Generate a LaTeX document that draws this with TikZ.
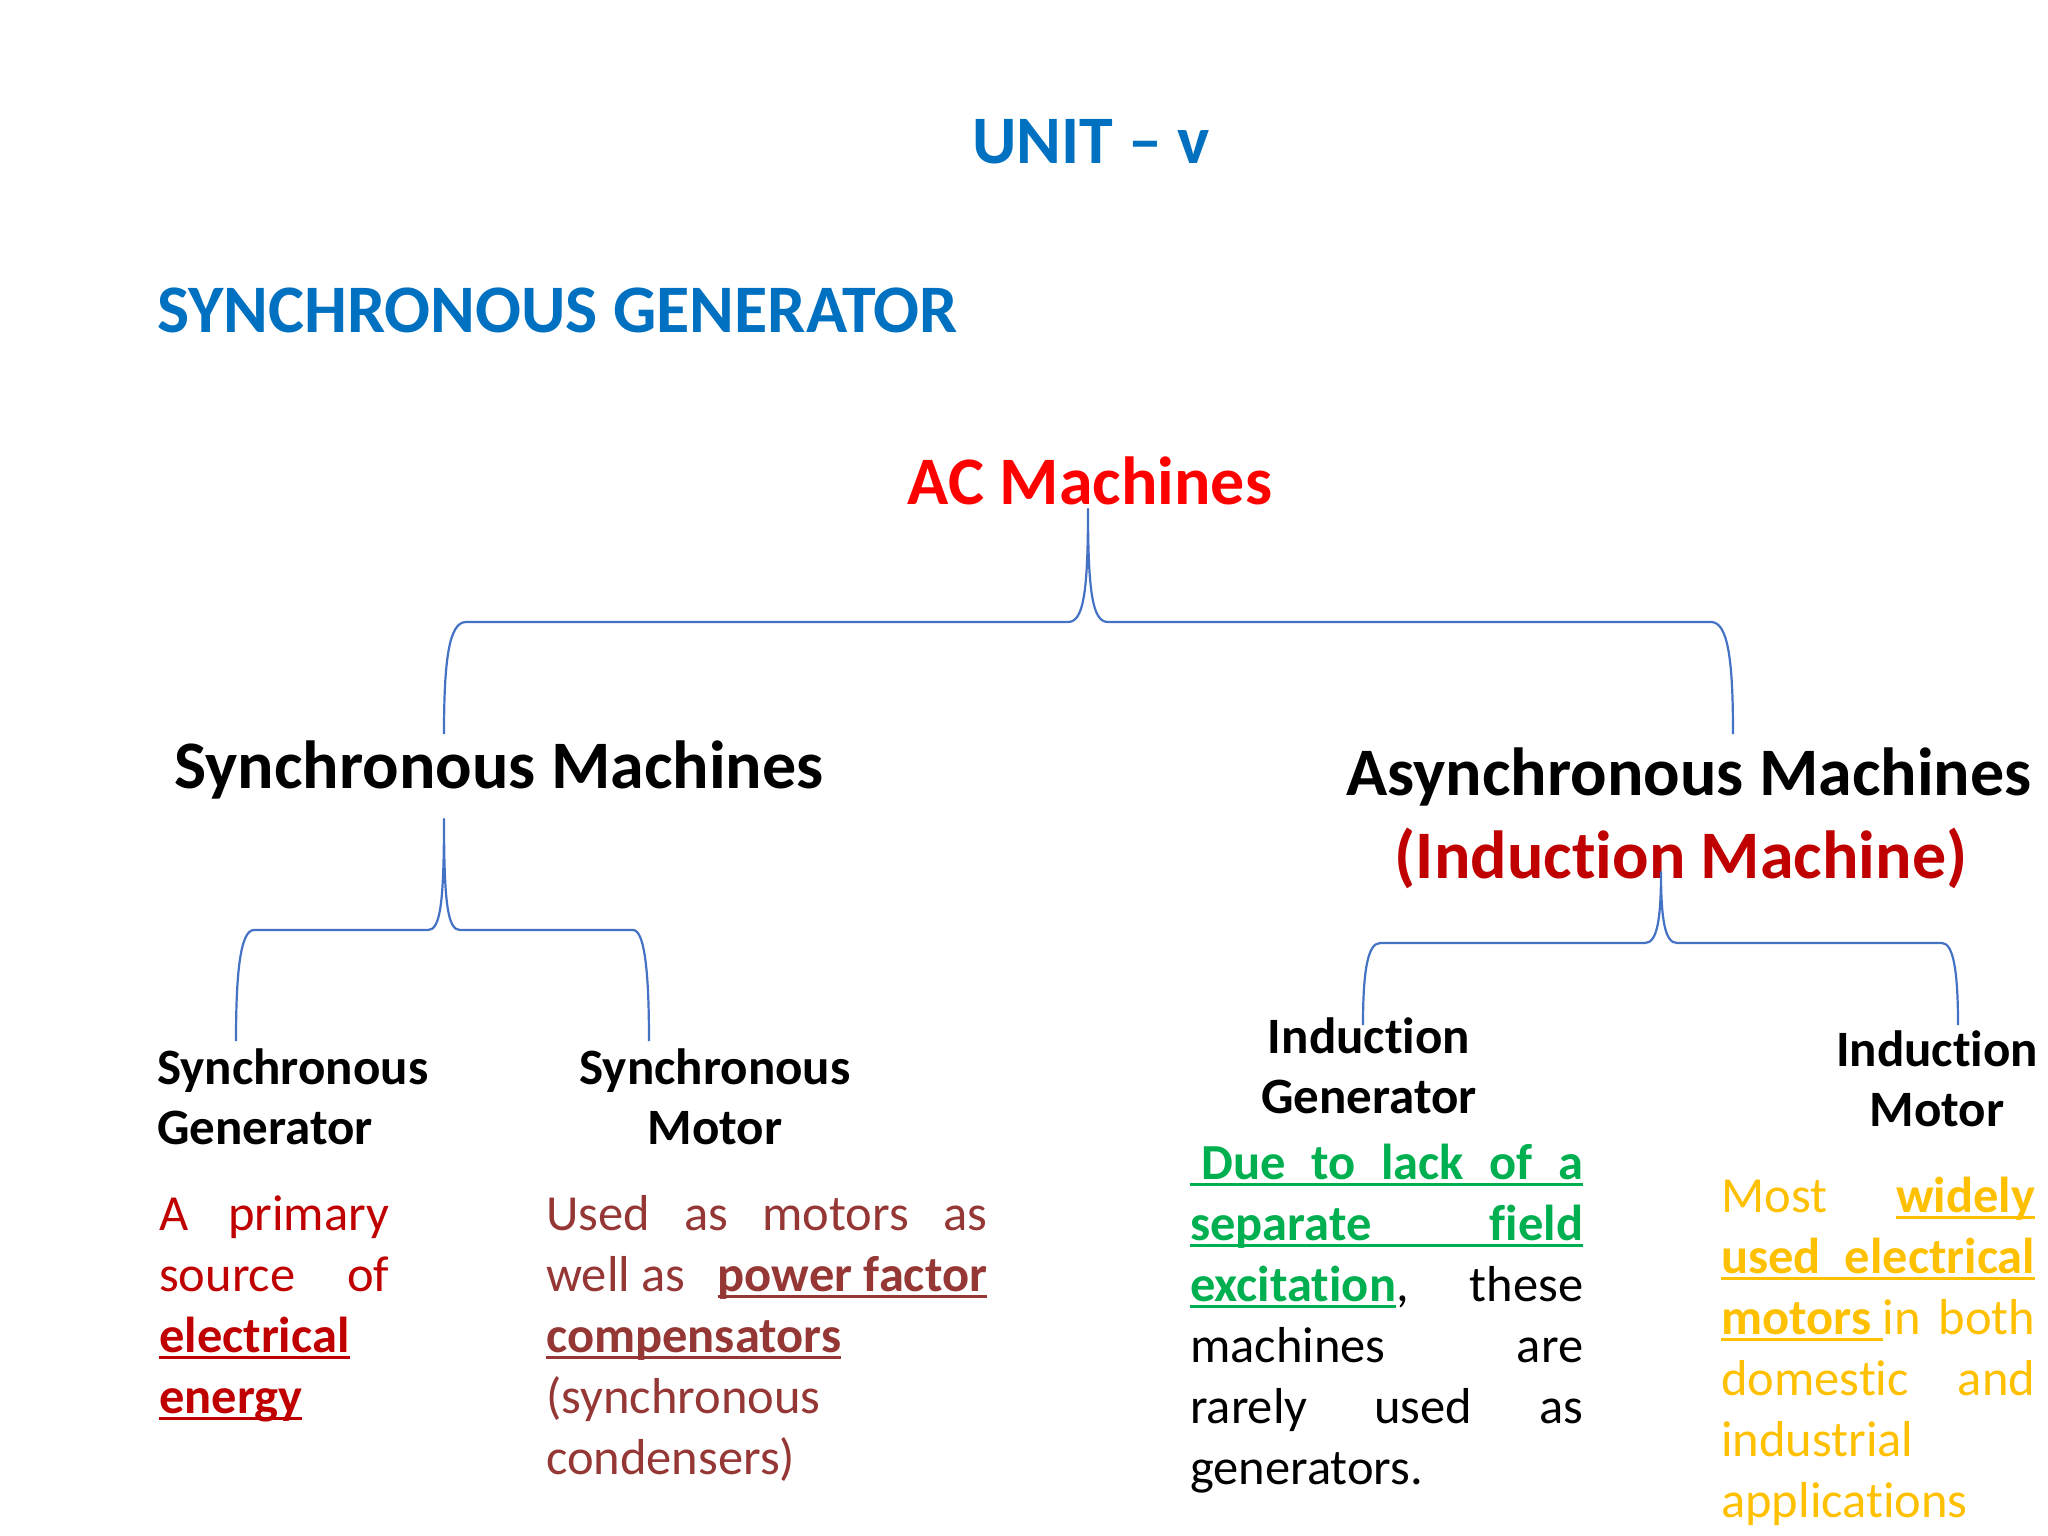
\documentclass[tikz,border=0pt]{standalone}
\usepackage{fontspec}
\setmainfont[Ligatures={NoCommon}]{Carlito}
\definecolor{titleblue}{HTML}{0070C0}
\definecolor{acred}{HTML}{FF0000}
\definecolor{darkred}{HTML}{C00000}
\definecolor{brownred}{HTML}{953735}
\definecolor{mygreen}{HTML}{00B050}
\definecolor{mygold}{HTML}{FFC000}
\definecolor{braceblue}{HTML}{4472C4}
\newcommand\myul[1]{\setbox0\hbox{#1}\rlap{\rule[-7pt]{\wd0}{3pt}}\box0}
\newcommand\myulw[2]{\hbox to #1{\rlap{\rule[-7pt]{#1}{3pt}}#2}}
\newcommand\tblock[2]{\vtop{\hsize=#1\fontsize{50.5}{61}\selectfont\parindent0pt #2}}
\newcommand\hdc[2]{\vtop{\fontsize{51}{60}\selectfont\bfseries\halign{\hfil##\hfil\cr #1\cr #2\cr}}}
\newcommand\hdl[2]{\vtop{\fontsize{51}{60}\selectfont\bfseries\halign{##\hfil\cr #1\cr #2\cr}}}
\tikzset{
  big/.style={inner sep=0pt, font=\fontsize{68}{80}\selectfont\bfseries},
  txt/.style={inner sep=0pt, anchor=base west},
  hd/.style={inner sep=0pt, text=black},
  connector/.style={draw=braceblue, line width=2.2pt, line join=round}
}
\begin{document}
\begin{tikzpicture}[x=1pt,y=-1pt]
\useasboundingbox[fill=white] (0,0) rectangle (2048,1536);

% titles
\node[big, text=titleblue, anchor=base] (unit) at (1091,164) {UNIT – v};
\node[big, text=titleblue, anchor=base west] (sg) at (157,332) {SYNCHRONOUS GENERATOR};
\node[big, text=acred, anchor=base] (ac) at (1090,504) {AC Machines};
\node[big, text=black, anchor=base west] (sm) at (174,788) {Synchronous Machines};
\node[big, text=black, anchor=base] (am) at (1689,795) {Asynchronous Machines};
\node[big, text=darkred, anchor=base] (im) at (1681,878) {(Induction Machine)};

% brace anchor points
\coordinate (acT) at (1088,509);
\coordinate (acL) at (444,734);
\coordinate (acR) at (1733,734);
\coordinate (smT) at (444,819);
\coordinate (smL) at (236,1041);
\coordinate (smR) at (649,1041);
\coordinate (imT) at (1661,872);
\coordinate (imL) at (1363,1025);
\coordinate (imR) at (1958,1025);

% braces
\draw[connector] (acL) .. controls (444,660) and (449,622) .. (466,622) -- (1068,622)
  .. controls (1083,622) and (1088,595) .. (acT)
  .. controls (1088,595) and (1093,622) .. (1108,622) -- (1711,622)
  .. controls (1728,622) and (1733,660) .. (acR);
\draw[connector] (smL) .. controls (236,975) and (240,930) .. (254,930) -- (428,930)
  .. controls (440,930) and (444,905) .. (smT)
  .. controls (444,905) and (448,930) .. (460,930) -- (633,930)
  .. controls (645,930) and (649,975) .. (smR);
\draw[connector] (imL) .. controls (1363,975) and (1367,943) .. (1380,943) -- (1645,943)
  .. controls (1657,943) and (1661,920) .. (imT)
  .. controls (1661,920) and (1665,943) .. (1677,943) -- (1942,943)
  .. controls (1954,943) and (1958,975) .. (imR);

% sub headings
\node[hd, anchor=base west] (sgen) at (157,1084) {\hdl{Synchronous}{Generator}};
\node[hd, anchor=base] (smot) at (715,1084) {\hdc{Synchronous}{Motor}};
\node[hd, anchor=base] (igen) at (1369,1053) {\hdc{Induction}{Generator}};
\node[hd, anchor=base] (imot) at (1937,1066) {\hdc{Induction}{Motor}};

% descriptions
\node[txt, text=darkred] (sgtext) at (159,1230) {\tblock{230pt}{%
  \hbox to \hsize{A\hfill primary}
  \hbox to \hsize{source\hfill of}
  \hbox{\myul{\bfseries electrical}}
  \hbox{\myul{\bfseries energy}}}};

\node[txt, text=brownred] (smtext) at (546,1230) {\tblock{441pt}{%
  \hbox to \hsize{Used as motors as}
  \hbox to \hsize{well as\hskip 14pt plus 1fil\myul{\bfseries power factor}}
  \hbox{\myul{\bfseries compensators}}
  \hbox{(synchronous}
  \hbox{condensers)}}};

\node[txt, text=mygreen] (igtext) at (1190,1179) {\tblock{393pt}{%
  \myulw{\hsize}{\bfseries\kern 11pt Due to lack of a}
  \myulw{\hsize}{\bfseries separate field}
  \hbox to \hsize{\myul{\bfseries excitation}{\color{black}, these}}
  \hbox to \hsize{\color{black}machines are}
  \hbox to \hsize{\color{black}rarely used as}
  \hbox{\color{black}generators.}}};

\node[txt, text=mygold] (imtext) at (1721,1212) {\tblock{314pt}{%
  \hbox to \hsize{Most \myul{\bfseries widely}}
  \myulw{\hsize}{\bfseries used electrical}
  \hbox to \hsize{\myul{\bfseries motors }in both}
  \hbox to \hsize{domestic and}
  \hbox{industrial}
  \hbox{applications}}};
\end{tikzpicture}
\end{document}
